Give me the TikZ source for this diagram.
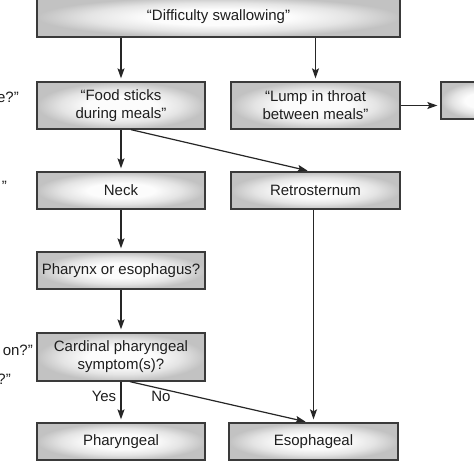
\documentclass[tikz,border=0pt]{standalone}
\usepackage{fontspec}
\setmainfont{Liberation Sans}
\usetikzlibrary{arrows.meta,calc}
\definecolor{edgegray}{HTML}{C2C2C2}
\definecolor{midgray}{HTML}{E4E4E4}
\definecolor{centergray}{HTML}{FCFCFC}
\definecolor{linegray}{HTML}{3A3A3A}
\definecolor{textgray}{HTML}{1E1E1E}
\pgfdeclareradialshading{boxshade}{\pgfpoint{0bp}{0bp}}{%
  color(0bp)=(centergray); color(10bp)=(centergray); color(18bp)=(midgray);
  color(25bp)=(edgegray); color(50bp)=(edgegray)}
\tikzset{
  box/.style={draw=linegray, line width=1.3pt, shading=boxshade,
    minimum width=168pt, minimum height=37pt, align=center, text=textgray,
    font=\fontsize{15}{18}\selectfont, inner sep=0pt},
  tallbox/.style={box, minimum height=47pt},
  conn/.style={draw=black!85, line width=1.2pt, -{Stealth[length=10pt,width=7pt,inset=2pt]}, shorten >=3pt},
  lbl/.style={text=textgray, font=\fontsize{15}{18}\selectfont, inner sep=0pt},
}
\begin{document}
\begin{tikzpicture}[x=1pt,y=-1pt]
\useasboundingbox (0,0) rectangle (474,474);
\fill[white] (0,0) rectangle (474,474);
% boxes
\node[box, minimum width=363pt, minimum height=40pt] (top) at (218.5,17) {“Difficulty swallowing”};
\node[tallbox] (food) at (121,105.5) {“Food sticks\\during meals”};
\node[tallbox, minimum width=169pt] (lump) at (315.5,105.5) {“Lump in throat\\between meals”};
\node[box, minimum width=80pt] (rbox) at (481,100.5) {};
\node[box] (neck) at (121,190.5) {Neck};
\node[box, minimum width=169pt] (retro) at (315.5,190.5) {Retrosternum};
\node[box] (phar) at (121,270.5) {Pharynx or esophagus?};
\node[tallbox, minimum height=48pt] (card) at (121,357) {Cardinal pharyngeal\\symptom(s)?};
\node[box] (pharyngeal) at (121,441.5) {Pharyngeal};
\node[box, minimum width=169pt] (esoph) at (313.5,441.5) {Esophageal};
% cut-off side texts
\node[lbl, anchor=east] (q1) at (19,97) {e?”};
\node[lbl, anchor=east] (q2) at (7,186) {”};
\node[lbl, anchor=east] (q3) at (33,350) {on?”};
\node[lbl, anchor=east] (q4) at (11,379) {?”};
% connectors
\draw[conn] (top.south -| food.north) -- (food.north);
\draw[conn] (top.south -| lump.north) -- (lump.north);
\draw[conn] (lump.east) -- (rbox.west |- lump.east);
\draw[conn] (food.south) -- (neck.north);
\draw[conn] ($(food.south)+(10,0)$) -- ($(retro.north)+(-5,0)$);
\draw[conn] (neck.south) -- (phar.north);
\draw[conn] (phar.south) -- (card.north);
\draw[conn] (retro.south -| esoph.north) -- (esoph.north);
\draw[conn] (card.south) -- (pharyngeal.north);
\draw[conn] ($(card.south)+(9,0)$) -- ($(esoph.north)+(-5,0)$);
\node[lbl] (yes) at (104,396) {Yes};
\node[lbl] (no) at (161,396) {No};
\end{tikzpicture}
\end{document}
